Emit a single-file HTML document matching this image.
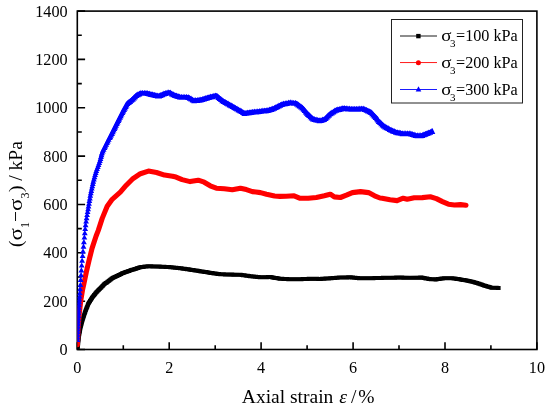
<!DOCTYPE html>
<html lang="en"><head><meta charset="utf-8"><title>Stress-strain curves</title>
<style>html,body{margin:0;padding:0;background:#fff}svg{display:block}text{font-family:"Liberation Serif","Times New Roman",serif;fill:#000}</style></head><body>
<svg width="550" height="408" viewBox="0 0 550 408">
<rect width="550" height="408" fill="#fff"/>
<defs><clipPath id="c"><rect x="77.3" y="11.1" width="459.6" height="338.4"/></clipPath></defs>
<path d="M77.3 349.5v-7.3M123.3 349.5v-4.2M169.2 349.5v-7.3M215.2 349.5v-4.2M261.1 349.5v-7.3M307.1 349.5v-4.2M353.1 349.5v-7.3M399 349.5v-4.2M445 349.5v-7.3M490.9 349.5v-4.2M536.9 349.5v-7.3M77.3 349.5h7.8M77.3 325.3h4.5M77.3 301.2h7.8M77.3 277h4.5M77.3 252.8h7.8M77.3 228.6h4.5M77.3 204.5h7.8M77.3 180.3h4.5M77.3 156.1h7.8M77.3 132h4.5M77.3 107.8h7.8M77.3 83.6h4.5M77.3 59.4h7.8M77.3 35.3h4.5M77.3 11.1h7.8" stroke="#000" stroke-width="1.6" fill="none"/>
<rect x="77.3" y="11.1" width="459.6" height="338.4" fill="none" stroke="#000" stroke-width="1.6"/>
<g clip-path="url(#c)">
<polyline fill="none" stroke="#000" stroke-width="3.6" stroke-linejoin="round" points="77.3,349.4 77.8,346.9 78.9,336.4 80.5,327.4 82.5,319.9 85.5,310.9 88.5,303.5 92.2,297.5 96.1,292.6 104.2,284.3 112.2,278.3 122.3,273.3 132.3,269.8 140.4,267.2 148.4,266.2 158.5,266.6 168.5,267 180.1,268.2 190.1,269.6 200.2,271.2 210.2,272.8 220.3,274.2 230.3,274.6 240.4,274.8 250.4,276.2 260.5,277.3 270.5,277.1 280.1,278.7 290.1,279.3 300.2,279.3 310.2,278.7 320.3,278.9 330.3,278.3 340.4,277.5 350.4,277.3 360.5,278.3 370.5,278.3 380,277.9 390,277.7 400,277.6 410.1,277.8 422.1,277.6 430.2,279.2 436.2,279.4 444.2,278.2 452.3,278.2 460.3,279.4 468.4,280.8 476.4,282.8 484.5,285.6 491.5,287.7 498.6,287.9"/>
<path fill="#000" d="M75.3 347.4h4v4h-4zM75.5 346.2h4v4h-4zM75.8 345h4v4h-4zM75.9 343.9h4v4h-4zM76 342.7h4v4h-4zM76.2 341.5h4v4h-4zM76.3 340.3h4v4h-4zM76.4 339.1h4v4h-4zM76.5 337.9h4v4h-4zM76.7 336.7h4v4h-4zM76.8 335.5h4v4h-4zM76.9 334.3h4v4h-4zM77.1 333.1h4v4h-4zM77.3 331.9h4v4h-4zM77.5 330.8h4v4h-4zM77.8 329.6h4v4h-4zM78 328.4h4v4h-4zM78.2 327.2h4v4h-4zM78.4 326h4v4h-4zM78.6 324.9h4v4h-4zM79 323.7h4v4h-4zM79.3 322.5h4v4h-4zM79.6 321.4h4v4h-4zM79.9 320.2h4v4h-4zM80.2 319.1h4v4h-4zM80.5 317.9h4v4h-4zM80.9 316.8h4v4h-4zM81.3 315.6h4v4h-4zM81.6 314.5h4v4h-4zM82 313.4h4v4h-4zM82.4 312.2h4v4h-4zM82.8 311.1h4v4h-4zM83.2 309.9h4v4h-4zM83.5 308.8h4v4h-4zM84 307.7h4v4h-4zM84.4 306.6h4v4h-4zM84.9 305.5h4v4h-4zM85.3 304.4h4v4h-4zM85.8 303.2h4v4h-4zM86.2 302.1h4v4h-4zM86.8 301.1h4v4h-4zM87.4 300h4v4h-4zM88 299h4v4h-4zM88.7 298h4v4h-4zM89.3 297h4v4h-4zM89.9 296h4v4h-4zM90.6 295h4v4h-4zM91.4 294h4v4h-4zM92.1 293.1h4v4h-4zM92.9 292.2h4v4h-4zM93.6 291.2h4v4h-4zM94.4 290.3h4v4h-4zM95.2 289.5h4v4h-4zM96.1 288.6h4v4h-4zM96.9 287.7h4v4h-4zM97.7 286.9h4v4h-4zM98.6 286h4v4h-4zM99.4 285.2h4v4h-4zM100.3 284.3h4v4h-4zM101.1 283.4h4v4h-4zM101.9 282.6h4v4h-4zM102.8 281.8h4v4h-4zM103.8 281.1h4v4h-4zM104.8 280.4h4v4h-4zM105.7 279.7h4v4h-4zM106.7 278.9h4v4h-4zM107.6 278.2h4v4h-4zM108.6 277.5h4v4h-4zM109.6 276.8h4v4h-4zM110.6 276.1h4v4h-4zM111.6 275.6h4v4h-4zM112.7 275.1h4v4h-4zM113.8 274.5h4v4h-4zM114.9 274h4v4h-4zM115.9 273.5h4v4h-4zM117 272.9h4v4h-4zM118.1 272.4h4v4h-4zM119.2 271.9h4v4h-4zM120.2 271.3h4v4h-4zM121.4 270.9h4v4h-4zM122.5 270.5h4v4h-4zM123.6 270.1h4v4h-4zM124.8 269.7h4v4h-4zM125.9 269.3h4v4h-4zM127 268.9h4v4h-4zM128.2 268.5h4v4h-4zM129.3 268.1h4v4h-4zM130.4 267.8h4v4h-4zM131.6 267.4h4v4h-4zM132.7 267h4v4h-4zM133.9 266.7h4v4h-4zM135 266.3h4v4h-4zM136.2 265.9h4v4h-4zM137.3 265.6h4v4h-4zM138.4 265.2h4v4h-4zM139.6 265h4v4h-4zM140.8 264.9h4v4h-4zM142 264.7h4v4h-4zM143.2 264.6h4v4h-4zM144.4 264.5h4v4h-4zM145.6 264.3h4v4h-4zM146.8 264.2h4v4h-4zM148 264.3h4v4h-4zM149.2 264.3h4v4h-4zM150.4 264.4h4v4h-4zM151.6 264.4h4v4h-4zM152.8 264.5h4v4h-4zM154 264.5h4v4h-4zM155.2 264.5h4v4h-4zM156.4 264.6h4v4h-4zM157.6 264.6h4v4h-4zM158.8 264.7h4v4h-4zM160 264.7h4v4h-4zM161.2 264.8h4v4h-4zM162.4 264.8h4v4h-4zM163.6 264.9h4v4h-4zM164.8 264.9h4v4h-4zM166 265h4v4h-4zM167.2 265.1h4v4h-4zM168.3 265.2h4v4h-4zM169.5 265.3h4v4h-4zM170.7 265.4h4v4h-4zM171.9 265.6h4v4h-4zM173.1 265.7h4v4h-4zM174.3 265.8h4v4h-4zM175.5 265.9h4v4h-4zM176.7 266.1h4v4h-4zM177.9 266.2h4v4h-4zM179.1 266.3h4v4h-4zM180.3 266.5h4v4h-4zM181.5 266.7h4v4h-4zM182.7 266.8h4v4h-4zM183.8 267h4v4h-4zM185 267.2h4v4h-4zM186.2 267.3h4v4h-4zM187.4 267.5h4v4h-4zM188.6 267.7h4v4h-4zM189.8 267.9h4v4h-4zM191 268.1h4v4h-4zM192.1 268.2h4v4h-4zM193.3 268.4h4v4h-4zM194.5 268.6h4v4h-4zM195.7 268.8h4v4h-4zM196.9 269h4v4h-4zM198.1 269.2h4v4h-4zM199.3 269.4h4v4h-4zM200.4 269.6h4v4h-4zM201.6 269.7h4v4h-4zM202.8 269.9h4v4h-4zM204 270.1h4v4h-4zM205.2 270.3h4v4h-4zM206.4 270.5h4v4h-4zM207.6 270.7h4v4h-4zM208.7 270.9h4v4h-4zM209.9 271h4v4h-4zM211.1 271.2h4v4h-4zM212.3 271.4h4v4h-4zM213.5 271.5h4v4h-4zM214.7 271.7h4v4h-4zM215.9 271.9h4v4h-4zM217.1 272h4v4h-4zM218.3 272.2h4v4h-4zM219.4 272.2h4v4h-4zM220.6 272.3h4v4h-4zM221.8 272.3h4v4h-4zM223 272.4h4v4h-4zM224.2 272.4h4v4h-4zM225.4 272.5h4v4h-4zM226.6 272.5h4v4h-4zM227.8 272.6h4v4h-4zM229 272.6h4v4h-4zM230.2 272.6h4v4h-4zM231.4 272.7h4v4h-4zM232.6 272.7h4v4h-4zM233.8 272.7h4v4h-4zM235 272.7h4v4h-4zM236.2 272.8h4v4h-4zM237.4 272.8h4v4h-4zM238.6 272.8h4v4h-4zM239.8 273h4v4h-4zM241 273.2h4v4h-4zM242.2 273.3h4v4h-4zM243.4 273.5h4v4h-4zM244.6 273.7h4v4h-4zM245.8 273.8h4v4h-4zM247 274h4v4h-4zM248.1 274.2h4v4h-4zM249.3 274.3h4v4h-4zM250.5 274.4h4v4h-4zM251.7 274.6h4v4h-4zM252.9 274.7h4v4h-4zM254.1 274.8h4v4h-4zM255.3 275h4v4h-4zM256.5 275.1h4v4h-4zM257.7 275.2h4v4h-4zM258.9 275.3h4v4h-4zM260.1 275.3h4v4h-4zM261.3 275.2h4v4h-4zM262.5 275.2h4v4h-4zM263.7 275.2h4v4h-4zM264.9 275.2h4v4h-4zM266.1 275.1h4v4h-4zM267.3 275.1h4v4h-4zM268.5 275.1h4v4h-4zM269.7 275.3h4v4h-4zM270.8 275.5h4v4h-4zM272 275.7h4v4h-4zM273.2 275.9h4v4h-4zM274.4 276.1h4v4h-4zM275.6 276.3h4v4h-4zM276.8 276.5h4v4h-4zM278 276.7h4v4h-4zM279.1 276.8h4v4h-4zM280.3 276.8h4v4h-4zM281.5 276.9h4v4h-4zM282.7 277h4v4h-4zM283.9 277.1h4v4h-4zM285.1 277.1h4v4h-4zM286.3 277.2h4v4h-4zM287.5 277.3h4v4h-4zM288.7 277.3h4v4h-4zM289.9 277.3h4v4h-4zM291.1 277.3h4v4h-4zM292.3 277.3h4v4h-4zM293.5 277.3h4v4h-4zM294.7 277.3h4v4h-4zM295.9 277.3h4v4h-4zM297.1 277.3h4v4h-4zM298.3 277.3h4v4h-4zM299.5 277.2h4v4h-4zM300.7 277.1h4v4h-4zM301.9 277.1h4v4h-4zM303.1 277h4v4h-4zM304.3 276.9h4v4h-4zM305.5 276.9h4v4h-4zM306.7 276.8h4v4h-4zM307.9 276.7h4v4h-4zM309.1 276.7h4v4h-4zM310.3 276.7h4v4h-4zM311.5 276.8h4v4h-4zM312.7 276.8h4v4h-4zM313.9 276.8h4v4h-4zM315.1 276.8h4v4h-4zM316.3 276.9h4v4h-4zM317.5 276.9h4v4h-4zM318.7 276.9h4v4h-4zM319.9 276.8h4v4h-4zM321.1 276.7h4v4h-4zM322.3 276.7h4v4h-4zM323.5 276.6h4v4h-4zM324.7 276.5h4v4h-4zM325.9 276.4h4v4h-4zM327.1 276.4h4v4h-4zM328.3 276.3h4v4h-4zM329.5 276.2h4v4h-4zM330.7 276.1h4v4h-4zM331.9 276h4v4h-4zM333.1 275.9h4v4h-4zM334.3 275.8h4v4h-4zM335.5 275.7h4v4h-4zM336.7 275.6h4v4h-4zM337.9 275.5h4v4h-4zM339.1 275.5h4v4h-4zM340.3 275.5h4v4h-4zM341.5 275.4h4v4h-4zM342.7 275.4h4v4h-4zM343.9 275.4h4v4h-4zM345.1 275.4h4v4h-4zM346.3 275.3h4v4h-4zM347.5 275.3h4v4h-4zM348.7 275.3h4v4h-4zM349.9 275.4h4v4h-4zM351 275.6h4v4h-4zM352.2 275.7h4v4h-4zM353.4 275.8h4v4h-4zM354.6 275.9h4v4h-4zM355.8 276h4v4h-4zM357 276.2h4v4h-4zM358.2 276.3h4v4h-4zM359.4 276.3h4v4h-4zM360.6 276.3h4v4h-4zM361.8 276.3h4v4h-4zM363 276.3h4v4h-4zM364.2 276.3h4v4h-4zM365.4 276.3h4v4h-4zM366.6 276.3h4v4h-4zM367.8 276.3h4v4h-4zM369 276.3h4v4h-4zM370.2 276.2h4v4h-4zM371.4 276.2h4v4h-4zM372.6 276.1h4v4h-4zM373.8 276.1h4v4h-4zM375 276h4v4h-4zM376.2 276h4v4h-4zM377.4 275.9h4v4h-4zM378.6 275.9h4v4h-4zM379.8 275.9h4v4h-4zM381 275.8h4v4h-4zM382.2 275.8h4v4h-4zM383.4 275.8h4v4h-4zM384.6 275.8h4v4h-4zM385.8 275.7h4v4h-4zM387 275.7h4v4h-4zM388.2 275.7h4v4h-4zM389.4 275.7h4v4h-4zM390.6 275.7h4v4h-4zM391.8 275.7h4v4h-4zM393 275.7h4v4h-4zM394.2 275.6h4v4h-4zM395.4 275.6h4v4h-4zM396.6 275.6h4v4h-4zM397.8 275.6h4v4h-4zM399 275.6h4v4h-4zM400.2 275.6h4v4h-4zM401.4 275.7h4v4h-4zM402.6 275.7h4v4h-4zM403.8 275.7h4v4h-4zM405 275.7h4v4h-4zM406.2 275.8h4v4h-4zM407.4 275.8h4v4h-4zM408.6 275.8h4v4h-4zM409.8 275.8h4v4h-4zM411 275.8h4v4h-4zM412.2 275.7h4v4h-4zM413.4 275.7h4v4h-4zM414.6 275.7h4v4h-4zM415.8 275.7h4v4h-4zM417 275.7h4v4h-4zM418.2 275.6h4v4h-4zM419.4 275.6h4v4h-4zM420.6 275.7h4v4h-4zM421.8 275.9h4v4h-4zM422.9 276.2h4v4h-4zM424.1 276.4h4v4h-4zM425.3 276.6h4v4h-4zM426.5 276.9h4v4h-4zM427.6 277.1h4v4h-4zM428.8 277.2h4v4h-4zM430 277.3h4v4h-4zM431.2 277.3h4v4h-4zM432.4 277.3h4v4h-4zM433.6 277.4h4v4h-4zM434.8 277.3h4v4h-4zM436 277.1h4v4h-4zM437.2 276.9h4v4h-4zM438.4 276.8h4v4h-4zM439.6 276.6h4v4h-4zM440.8 276.4h4v4h-4zM441.9 276.2h4v4h-4zM443.1 276.2h4v4h-4zM444.3 276.2h4v4h-4zM445.5 276.2h4v4h-4zM446.7 276.2h4v4h-4zM447.9 276.2h4v4h-4zM449.1 276.2h4v4h-4zM450.3 276.2h4v4h-4zM451.5 276.4h4v4h-4zM452.7 276.6h4v4h-4zM453.9 276.7h4v4h-4zM455.1 276.9h4v4h-4zM456.3 277.1h4v4h-4zM457.5 277.3h4v4h-4zM458.7 277.5h4v4h-4zM459.8 277.7h4v4h-4zM461 277.9h4v4h-4zM462.2 278.1h4v4h-4zM463.4 278.3h4v4h-4zM464.6 278.5h4v4h-4zM465.7 278.7h4v4h-4zM466.9 278.9h4v4h-4zM468.1 279.2h4v4h-4zM469.2 279.5h4v4h-4zM470.4 279.8h4v4h-4zM471.6 280.1h4v4h-4zM472.7 280.4h4v4h-4zM473.9 280.7h4v4h-4zM475.1 281h4v4h-4zM476.2 281.4h4v4h-4zM477.3 281.8h4v4h-4zM478.5 282.2h4v4h-4zM479.6 282.6h4v4h-4zM480.7 283h4v4h-4zM481.9 283.4h4v4h-4zM483 283.7h4v4h-4zM484.1 284.1h4v4h-4zM485.3 284.4h4v4h-4zM486.4 284.8h4v4h-4zM487.6 285.1h4v4h-4zM488.7 285.5h4v4h-4zM489.9 285.7h4v4h-4zM491.1 285.7h4v4h-4zM492.3 285.8h4v4h-4zM493.5 285.8h4v4h-4zM494.7 285.8h4v4h-4zM495.9 285.9h4v4h-4zM496.6 285.9h4v4h-4z"/>
<polyline fill="none" stroke="#f00" stroke-width="5.1" stroke-linejoin="round" stroke-linecap="round" points="77.4,344.8 78.1,327.4 79.4,312.4 81,299 82.5,290 83.8,284.3 86.3,272.2 89.1,260.2 92.1,248.1 96.1,236 98.3,230.4 102.2,218.4 107.2,206.3 112.2,199.3 120.3,192.2 126.3,185.2 132.3,179.2 140.4,173.7 148.4,171.1 156.5,172.5 164.5,175.1 172.5,176.3 176,177.1 182.1,179.6 190.1,181.6 198.2,180.2 204.2,182.2 210.2,185.8 216.3,188.2 224.3,188.8 232.3,189.8 240.4,188.2 246.4,189.6 252.4,191.6 260.5,192.6 266.5,194.2 274.6,196 280,196.4 286.1,196.3 294.1,195.8 300.2,198.3 308.2,198.3 316.3,197.5 324.3,195.8 330.3,194.2 334.3,196.9 340.4,197.5 346.4,195.2 352.4,192.6 360.5,191.6 368.5,192.6 374.6,195.8 380,198 382.1,198.2 390.1,199.8 397.1,200.6 403.2,198.2 407.2,199.2 414.2,197.8 422.3,197.6 430.3,196.8 436.4,198.6 442.4,201.6 448.4,204.2 454.5,205 460.5,204.6 466,205.2"/>
<polyline fill="none" stroke="#00f" stroke-width="3.6" stroke-linejoin="round" points="100.2,160 102.2,152.4 107.2,142.3 112.2,132.3 117.2,122.2 122.3,112.2 127.3,103.1 132.3,99.1 136.3,95.1 140.4,92.7 146.4,92.7 152.4,94.1 158.5,95.7 164.5,93.1 169.5,92 174,94.5 180,96.5 188.1,96.7 194.1,100.2 200.2,99.4 208.2,97.1 216.3,95.1 222.3,100.2 230.3,104.6 238.4,109.2 244.4,112.8 252.4,111.6 260.5,110.8 268.5,109.8 274.6,107.6 282.1,103.8 290.1,102.2 296.1,102.8 302.2,107.2 308.2,114.2 313.2,118.7 320.3,120.3 325.3,118.3 330.3,113.2 336.4,109.6 343.4,107.8 350.4,108.6 356.5,108.6 363.5,108.4 370.5,111.5 376.6,117.8 378.1,120.2 384.1,125.8 390.2,129.2 396.2,131.8 403.2,133.2 410.3,133.2 416.3,135.2 421.3,135.2 426.4,133.2 432.4,130.8"/>
<path fill="#00f" d="M77.4 336.8l2.9 5.2h-5.8zM77.5 334.2l2.9 5.2h-5.8zM77.6 331.6l2.9 5.2h-5.8zM77.7 328.9l2.9 5.2h-5.8zM77.8 326.3l2.9 5.2h-5.8zM77.9 323.6l2.9 5.2h-5.8zM78 320.9l2.9 5.2h-5.8zM78.2 318.2l2.9 5.2h-5.8zM78.3 315.5l2.9 5.2h-5.8zM78.4 312.8l2.9 5.2h-5.8zM78.5 310.1l2.9 5.2h-5.8zM78.6 307.4l2.9 5.2h-5.8zM78.8 304.6l2.9 5.2h-5.8zM78.9 301.8l2.9 5.2h-5.8zM79.1 299.1l2.9 5.2h-5.8zM79.3 296.3l2.9 5.2h-5.8zM79.5 293.4l2.9 5.2h-5.8zM79.8 290l2.9 5.2h-5.8zM80 286.1l2.9 5.2h-5.8zM80.4 281.7l2.9 5.2h-5.8zM80.7 276.8l2.9 5.2h-5.8zM81.1 272l2.9 5.2h-5.8zM81.4 267.2l2.9 5.2h-5.8zM81.7 262.4l2.9 5.2h-5.8zM82.1 257.6l2.9 5.2h-5.8zM82.6 252.9l2.9 5.2h-5.8zM83 248.2l2.9 5.2h-5.8zM83.5 243.6l2.9 5.2h-5.8zM83.9 239l2.9 5.2h-5.8zM84.4 234.4l2.9 5.2h-5.8zM84.8 230l2.9 5.2h-5.8zM85.2 225.9l2.9 5.2h-5.8zM85.6 222l2.9 5.2h-5.8zM86.1 218.4l2.9 5.2h-5.8zM86.6 215l2.9 5.2h-5.8zM87.1 211.9l2.9 5.2h-5.8zM87.6 208.9l2.9 5.2h-5.8zM88.1 206.1l2.9 5.2h-5.8zM88.5 203.2l2.9 5.2h-5.8zM89 200.5l2.9 5.2h-5.8zM89.4 197.8l2.9 5.2h-5.8zM89.9 195.2l2.9 5.2h-5.8zM90.3 192.6l2.9 5.2h-5.8zM90.8 190.1l2.9 5.2h-5.8zM91.3 187.7l2.9 5.2h-5.8zM91.8 185.4l2.9 5.2h-5.8zM92.3 183l2.9 5.2h-5.8zM92.8 180.7l2.9 5.2h-5.8zM93.3 178.5l2.9 5.2h-5.8zM93.9 176.3l2.9 5.2h-5.8zM94.5 174.1l2.9 5.2h-5.8zM95.1 171.9l2.9 5.2h-5.8zM95.7 169.8l2.9 5.2h-5.8zM96.3 167.7l2.9 5.2h-5.8zM97 165.7l2.9 5.2h-5.8zM97.8 163.7l2.9 5.2h-5.8zM98.5 161.7l2.9 5.2h-5.8zM99.2 159.8l2.9 5.2h-5.8zM99.9 157.8l2.9 5.2h-5.8zM100.5 155.9l2.9 5.2h-5.8zM101 153.9l2.9 5.2h-5.8zM101.5 152l2.9 5.2h-5.8zM102 150.1l2.9 5.2h-5.8zM102.8 148.3l2.9 5.2h-5.8zM103.6 146.6l2.9 5.2h-5.8zM104.5 144.9l2.9 5.2h-5.8zM105.3 143.2l2.9 5.2h-5.8zM106.2 141.5l2.9 5.2h-5.8zM107 139.9l2.9 5.2h-5.8zM107.8 138.2l2.9 5.2h-5.8zM108.7 136.5l2.9 5.2h-5.8zM109.5 134.9l2.9 5.2h-5.8zM110.3 133.2l2.9 6h-5.8zM111.1 131.5l2.9 6h-5.8zM112 129.9l2.9 6h-5.8zM112.8 128.2l2.9 6h-5.8zM113.6 126.6l2.9 6h-5.8zM114.4 125l2.9 6h-5.8zM115.2 123.4l2.9 6h-5.8zM116 121.7l2.9 6h-5.8zM116.8 120.1l2.9 6h-5.8zM117.6 118.5l2.9 6h-5.8zM118.4 116.9l2.9 6h-5.8zM119.2 115.4l2.9 6h-5.8zM120 113.8l2.9 6h-5.8zM120.8 112.2l2.9 6h-5.8zM121.6 110.6l2.9 6h-5.8zM122.4 109.1l2.9 6h-5.8zM123.3 107.5l2.9 6h-5.8zM124.1 106l2.9 6h-5.8zM125 104.5l2.9 6h-5.8zM125.8 103l2.9 6h-5.8zM126.6 101.5l2.9 6h-5.8zM127.5 100l2.9 6h-5.8zM128.9 99l2.9 6h-5.8zM130.2 97.9l2.9 6h-5.8zM131.5 96.8l2.9 6h-5.8zM132.8 95.7l2.9 6h-5.8zM134 94.5l2.9 6h-5.8zM135.2 93.3l2.9 6h-5.8zM136.4 92.1l2.9 6h-5.8zM137.9 91.3l2.9 6h-5.8zM139.4 90.4l2.9 6h-5.8zM140.9 89.8l2.9 6h-5.8zM142.6 89.8l2.9 6h-5.8zM144.3 89.8l2.9 6h-5.8zM146 89.8l2.9 6h-5.8zM147.7 90.1l2.9 6h-5.8zM149.3 90.5l2.9 6h-5.8zM151 90.9l2.9 6h-5.8zM152.6 91.3l2.9 6h-5.8zM154.3 91.7l2.9 6h-5.8zM155.9 92.1l2.9 6h-5.8zM157.6 92.6l2.9 6h-5.8zM159.2 92.5l2.9 6h-5.8zM160.7 91.9l2.9 6h-5.8zM162.3 91.2l2.9 6h-5.8zM163.9 90.5l2.9 6h-5.8zM165.5 90l2.9 6h-5.8zM167.1 89.6l2.9 6h-5.8zM168.8 89.3l2.9 6h-5.8zM170.4 89.6l2.9 6h-5.8zM171.8 90.4l2.9 6h-5.8zM173.3 91.2l2.9 6h-5.8zM174.9 91.9l2.9 6h-5.8zM176.5 92.5l2.9 6h-5.8zM178.1 93l2.9 6h-5.8zM179.7 93.5l2.9 6h-5.8zM181.4 93.7l2.9 6h-5.8zM183.1 93.7l2.9 6h-5.8zM184.8 93.7l2.9 6h-5.8zM186.5 93.8l2.9 6h-5.8zM188.2 93.9l2.9 6h-5.8zM189.7 94.7l2.9 6h-5.8zM191.1 95.6l2.9 6h-5.8zM192.6 96.4l2.9 6h-5.8zM194.1 97.3l2.9 6h-5.8zM195.7 97.1l2.9 6h-5.8zM197.4 96.9l2.9 6h-5.8zM199.1 96.7l2.9 6h-5.8zM200.8 96.4l2.9 6h-5.8zM202.4 95.9l2.9 6h-5.8zM204.1 95.4l2.9 6h-5.8zM205.7 94.9l2.9 6h-5.8zM207.3 94.5l2.9 6h-5.8zM209 94l2.9 6h-5.8zM210.6 93.6l2.9 6h-5.8zM212.3 93.2l2.9 6h-5.8zM213.9 92.8l2.9 6h-5.8zM215.6 92.4l2.9 6h-5.8zM217 92.8l2.9 6h-5.8zM218.3 93.9l2.9 6h-5.8zM219.6 95l2.9 6h-5.8zM220.9 96.1l2.9 6h-5.8zM222.2 97.2l2.9 6h-5.8zM223.7 98.1l2.9 6h-5.8zM225.2 98.9l2.9 6h-5.8zM226.7 99.7l2.9 6h-5.8zM228.1 100.5l2.9 6h-5.8zM229.6 101.4l2.9 6h-5.8zM231.1 102.2l2.9 6h-5.8zM232.6 103l2.9 6h-5.8zM234.1 103.9l2.9 6h-5.8zM235.5 104.7l2.9 6h-5.8zM237 105.5l2.9 6h-5.8zM238.5 106.4l2.9 6h-5.8zM240 107.3l2.9 6h-5.8zM241.4 108.1l2.9 6h-5.8zM242.9 109l2.9 6h-5.8zM244.3 109.9l2.9 6h-5.8zM246 109.7l2.9 6h-5.8zM247.7 109.4l2.9 6h-5.8zM249.4 109.2l2.9 6h-5.8zM251 108.9l2.9 6h-5.8zM252.7 108.7l2.9 6h-5.8zM254.4 108.5l2.9 6h-5.8zM256.1 108.4l2.9 6h-5.8zM257.8 108.2l2.9 6h-5.8zM259.5 108l2.9 6h-5.8zM261.2 107.8l2.9 6h-5.8zM262.9 107.6l2.9 6h-5.8zM264.6 107.4l2.9 6h-5.8zM266.2 107.2l2.9 6h-5.8zM267.9 107l2.9 6h-5.8zM269.6 106.5l2.9 6h-5.8zM271.2 106l2.9 6h-5.8zM272.8 105.4l2.9 6h-5.8zM274.4 104.8l2.9 6h-5.8zM275.9 104.1l2.9 6h-5.8zM277.4 103.3l2.9 6h-5.8zM278.9 102.5l2.9 6h-5.8zM280.4 101.8l2.9 6h-5.8zM282 101l2.9 6h-5.8zM283.6 100.6l2.9 6h-5.8zM285.3 100.3l2.9 6h-5.8zM286.9 100l2.9 6h-5.8zM288.6 99.6l2.9 6h-5.8zM290.3 99.3l2.9 6h-5.8zM292 99.5l2.9 6h-5.8zM293.7 99.7l2.9 6h-5.8zM295.4 99.8l2.9 6h-5.8zM296.9 100.5l2.9 6h-5.8zM298.2 101.5l2.9 6h-5.8zM299.6 102.5l2.9 6h-5.8zM301 103.5l2.9 6h-5.8zM302.3 104.5l2.9 6h-5.8zM303.5 105.8l2.9 6h-5.8zM304.6 107.1l2.9 6h-5.8zM305.7 108.4l2.9 6h-5.8zM306.8 109.7l2.9 6h-5.8zM307.9 110.9l2.9 6h-5.8zM309.1 112.1l2.9 6h-5.8zM310.4 113.3l2.9 6h-5.8zM311.6 114.4l2.9 6h-5.8zM312.9 115.5l2.9 6h-5.8zM314.5 116.1l2.9 6h-5.8zM316.1 116.5l2.9 6h-5.8zM317.8 116.8l2.9 6h-5.8zM319.4 117.2l2.9 6h-5.8zM321 117.1l2.9 6h-5.8zM322.6 116.5l2.9 6h-5.8zM324.2 115.9l2.9 6h-5.8zM325.7 115l2.9 6h-5.8zM326.9 113.8l2.9 6h-5.8zM328 112.6l2.9 6h-5.8zM329.2 111.4l2.9 6h-5.8zM330.5 110.2l2.9 6h-5.8zM331.9 109.4l2.9 6h-5.8zM333.4 108.5l2.9 6h-5.8zM334.8 107.6l2.9 6h-5.8zM336.3 106.8l2.9 6h-5.8zM337.9 106.3l2.9 6h-5.8zM339.6 105.9l2.9 6h-5.8zM341.2 105.5l2.9 6h-5.8zM342.9 105.1l2.9 6h-5.8zM344.6 105.1l2.9 6h-5.8zM346.2 105.2l2.9 6h-5.8zM347.9 105.4l2.9 6h-5.8zM349.6 105.6l2.9 6h-5.8zM351.3 105.7l2.9 6h-5.8zM353 105.7l2.9 6h-5.8zM354.7 105.7l2.9 6h-5.8zM356.4 105.7l2.9 6h-5.8zM358.1 105.7l2.9 6h-5.8zM359.8 105.6l2.9 6h-5.8zM361.5 105.6l2.9 6h-5.8zM363.2 105.5l2.9 6h-5.8zM364.8 106.1l2.9 6h-5.8zM366.4 106.8l2.9 6h-5.8zM367.9 107.5l2.9 6h-5.8zM369.5 108.2l2.9 6h-5.8zM370.9 109l2.9 6h-5.8zM372.1 110.2l2.9 6h-5.8zM373.3 111.5l2.9 6h-5.8zM374.4 112.7l2.9 6h-5.8zM375.6 113.9l2.9 6h-5.8zM376.8 115.2l2.9 6h-5.8zM377.7 116.6l2.9 6h-5.8zM378.7 117.9l2.9 6h-5.8zM380 119.1l2.9 6h-5.8zM381.2 120.2l2.9 6h-5.8zM382.5 121.4l2.9 6h-5.8zM383.7 122.5l2.9 6h-5.8zM385.1 123.5l2.9 6h-5.8zM386.6 124.3l2.9 6h-5.8zM388.1 125.1l2.9 6h-5.8zM389.6 126l2.9 6h-5.8zM391.1 126.7l2.9 6h-5.8zM392.7 127.4l2.9 6h-5.8zM394.2 128.1l2.9 6h-5.8zM395.8 128.7l2.9 6h-5.8zM397.4 129.2l2.9 6h-5.8zM399.1 129.5l2.9 6h-5.8zM400.7 129.8l2.9 6h-5.8zM402.4 130.2l2.9 6h-5.8zM404.1 130.3l2.9 6h-5.8zM405.8 130.3l2.9 6h-5.8zM407.5 130.3l2.9 6h-5.8zM409.2 130.3l2.9 6h-5.8zM410.9 130.5l2.9 6h-5.8zM412.5 131l2.9 6h-5.8zM414.1 131.6l2.9 6h-5.8zM415.7 132.1l2.9 6h-5.8zM417.4 132.3l2.9 6h-5.8zM419.1 132.3l2.9 6h-5.8zM420.8 132.3l2.9 6h-5.8zM422.4 131.9l2.9 6h-5.8zM424 131.3l2.9 6h-5.8zM425.6 130.7l2.9 6h-5.8zM427.1 130l2.9 6h-5.8zM428.7 129.4l2.9 6h-5.8zM430.3 128.8l2.9 6h-5.8zM431.9 128.1l2.9 6h-5.8zM432.4 127.9l2.9 6h-5.8z"/>
</g>
<text x="77.3" y="372.5" font-size="16.2" text-anchor="middle">0</text>
<text x="169.2" y="372.5" font-size="16.2" text-anchor="middle">2</text>
<text x="261.1" y="372.5" font-size="16.2" text-anchor="middle">4</text>
<text x="353.1" y="372.5" font-size="16.2" text-anchor="middle">6</text>
<text x="445" y="372.5" font-size="16.2" text-anchor="middle">8</text>
<text x="536.9" y="372.5" font-size="16.2" text-anchor="middle">10</text>
<text x="67.6" y="355.1" font-size="16.2" text-anchor="end">0</text>
<text x="67.6" y="306.8" font-size="16.2" text-anchor="end">200</text>
<text x="67.6" y="258.4" font-size="16.2" text-anchor="end">400</text>
<text x="67.6" y="210.1" font-size="16.2" text-anchor="end">600</text>
<text x="67.6" y="161.7" font-size="16.2" text-anchor="end">800</text>
<text x="67.6" y="113.4" font-size="16.2" text-anchor="end">1000</text>
<text x="67.6" y="65" font-size="16.2" text-anchor="end">1200</text>
<text x="67.6" y="16.7" font-size="16.2" text-anchor="end">1400</text>
<text y="403" font-size="19.5"><tspan x="241.8">Axial strain</tspan> <tspan x="339.2" font-style="italic">ε</tspan> <tspan x="351">/</tspan><tspan x="358.3">%</tspan></text>
<g transform="translate(22.4,247) rotate(-90)" font-size="19.5"><text x="0" y="0">(</text><text transform="translate(6.5,0) scale(1.17,1)">σ</text><text x="18.9" y="7" font-size="12">1</text><text x="25.1" y="0">−</text><text transform="translate(36.1,0) scale(1.17,1)">σ</text><text x="48.6" y="7" font-size="12">3</text><text x="54.9" y="0">) / kPa</text></g>
<rect x="391.5" y="19.5" width="131" height="83.5" fill="#fff" stroke="#222" stroke-width="1"/>
<path d="M400 36.0H437" stroke="#000" stroke-width="0.9" fill="none"/>
<text transform="translate(441.3,41.4) scale(1.17,1)" font-size="16.2">σ</text><text x="450.1" y="41.4" font-size="16.2"><tspan font-size="11" dy="5.8">3</tspan><tspan dy="-5.8" dx="0.4">=100 kPa</tspan></text>
<path d="M400 62.55H437" stroke="#f00" stroke-width="0.9" fill="none"/>
<text transform="translate(441.3,68) scale(1.17,1)" font-size="16.2">σ</text><text x="450.1" y="68" font-size="16.2"><tspan font-size="11" dy="5.8">3</tspan><tspan dy="-5.8" dx="0.4">=200 kPa</tspan></text>
<path d="M400 89.5H437" stroke="#00f" stroke-width="0.9" fill="none"/>
<text transform="translate(441.3,94.9) scale(1.17,1)" font-size="16.2">σ</text><text x="450.1" y="94.9" font-size="16.2"><tspan font-size="11" dy="5.8">3</tspan><tspan dy="-5.8" dx="0.4">=300 kPa</tspan></text>
<rect x="416.2" y="33.9" width="4.4" height="4.4" fill="#000"/>
<circle cx="418.4" cy="62.7" r="2.5" fill="#f00"/>
<path d="M418.5 86.2l2.8 5.3h-5.6z" fill="#00f"/>
</svg></body></html>
